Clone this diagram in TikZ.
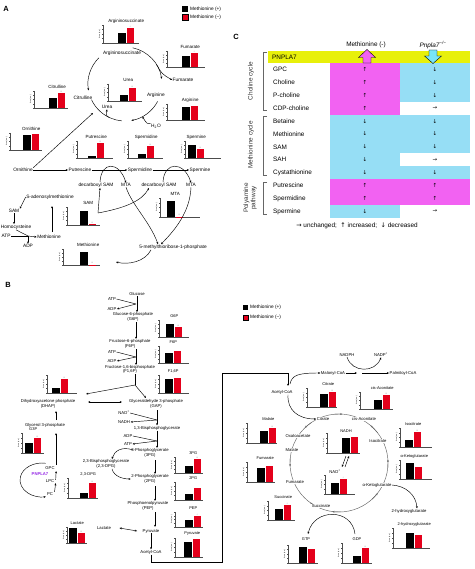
\documentclass[tikz,border=0pt]{standalone}
\usepackage{fontspec}
\setmainfont{Liberation Sans}
\newfontfamily\arrf{DejaVu Sans}
\usetikzlibrary{arrows.meta,calc}
\definecolor{barred}{RGB}{228,0,27}
\definecolor{mag}{RGB}{242,98,242}
\definecolor{cyn}{RGB}{150,222,245}
\definecolor{ylw}{RGB}{232,240,10}
\definecolor{pur}{RGB}{150,40,230}
\newcommand\fsA{\fontsize{4.8}{5.2}\selectfont}
\newcommand\fsB{\fontsize{4.2}{4.6}\selectfont}
\newcommand\fsC{\fontsize{6.4}{7.2}\selectfont}
\newcommand\fsL{\fontsize{4.8}{5.2}\selectfont}
\newcommand\fsY{\fontsize{1.8}{2}\selectfont}
\newcommand\cf{\fontsize{4.5}{4.9}\selectfont}
\newcommand\up{↑}
\newcommand\dn{↓}
\newcommand\rt{→}
\newcounter{chartno}
\tikzset{
 lA/.style={font=\fsA, inner sep=0.4pt},
 lB/.style={font=\fsB, inner sep=0.4pt, align=center},
 lBw/.style={lB, fill=white},
 ttl/.style={font=\cf, inner sep=0pt},
 yl/.style={font=\fsY, inner sep=0pt, rotate=90},
 stars/.style={font=\fsY, inner sep=0pt},
 ax/.style={line width=0.3pt, black!70},
 arr/.style={line width=0.45pt, -{Stealth[length=2.3pt,width=1.9pt]}},
 darr/.style={line width=0.45pt, {Stealth[length=2.3pt,width=1.9pt]}-{Stealth[length=2.3pt,width=1.9pt]}},
 ln/.style={line width=0.45pt},
 cyc/.style={line width=0.45pt, black!60},
 pl/.style={font=\bfseries\fontsize{7.5}{8}\selectfont, inner sep=0pt},
 cl/.style={font=\fsC, inner sep=0pt, anchor=west},
 cs/.style={font=\arrf\fontsize{5.5}{6}\selectfont, inner sep=0pt},
 brk/.style={line width=0.6pt, black!60},
 leg/.style={font=\fsL, inner sep=0pt, anchor=west},
}
% ax ay aw ah bx btop rtop title star
\newcommand\bc[9]{%
  \stepcounter{chartno}\edef\cn{\arabic{chartno}}%
  \draw[ax] (#1,{#2-#4}) -- (#1,#2) -- ({#1+#3},#2);
  \foreach \k in {0,0.25,0.5,0.75,1}{\draw[ax] (#1,{#2-\k*#4}) -- ({#1-0.9},{#2-\k*#4});}
  \fill[black] (#5,#2) rectangle ({#5+7.5},#6);
  \fill[barred] ({#5+8.5},#2) rectangle ({#5+16},#7);
  \node[ttl] (ct\cn) at ({#5+8.25},{#2-#4-4}) {#8};
  \node[stars] (cs\cn) at ({#5+12.25},{#7-1.6}) {#9};
  \node[yl] (cy\cn) at ({#1-3.3},{#2-#4/2}) {Area (a.u.)};
}
\begin{document}
\begin{tikzpicture}[x=1pt,y=-1pt]
\useasboundingbox (0,0) rectangle (474,569);
\fill[white] (0,0) rectangle (474,569);

%%%%%%%%%%%%%%%% PANEL A
\node[pl] (labA) at (6,9) {A};
\fill[black] (182,6) rectangle (188,12);
\draw[fill=barred, line width=0.3pt] (182,14) rectangle (188,20);
\node[leg] (lgA1) at (190,9) {Methionine (+)};
\node[leg] (lgA2) at (190,17) {Methionine (−)};

\bc{103}{43}{36}{18}{118}{33}{28}{Argininosuccinate}{*}
\bc{167}{67}{38}{16}{182}{56}{53}{Fumarate}{*}
\bc{34}{108}{34}{17}{49}{98}{93}{Citrulline}{**}
\bc{108}{101}{34}{17}{120}{95}{88}{Urea}{**}
\bc{167}{120}{38}{16}{182}{107}{106}{Arginine}{}
\bc{10}{150}{32}{17}{23}{135}{134}{Ornithine}{}
\bc{77}{158}{36}{17}{88}{156}{143}{Putrescine}{**}
\bc{128}{158}{35}{17}{138}{154}{146}{Spermidine}{**}
\bc{185}{158}{36}{17}{188}{145}{149}{Spermine}{**}
\bc{67}{225}{33}{18}{80}{211}{224}{SAM}{**}
\bc{160}{217}{40}{19}{167}{201}{216.5}{MTA}{**}
\bc{63}{265}{37}{16}{80}{252}{264.5}{Methionine}{**}

\node[lA] (asuc) at (122,53) {Argininosuccinate};
\node[lA] (fum) at (183,80) {Fumarate};
\node[lA] (cit) at (83,98) {Citrulline};
\node[lA] (arg) at (156,95) {Arginine};
\node[lA] (urea) at (107,107) {Urea};
\node[lA] (h2o) at (156,126) {H\textsubscript{2}O};
\node[lA] (orn) at (23,170) {Ornithine};
\node[lA] (put) at (80,170) {Putrescine};
\node[lA] (spd) at (140,170) {Spermidine};
\node[lA] (spm) at (200,170) {Spermine};
\node[lA] (ds1) at (96,185) {decarboxyl SAM};
\node[lA] (mta1) at (126,185) {MTA};
\node[lA] (ds2) at (159,185) {decarboxyl SAM};
\node[lA] (mta2) at (191,185) {MTA};
\node[lA] (sadm) at (50,197) {S-adenosylmethionine};
\node[lA] (sam) at (14,211) {SAM};
\node[lA] (hcy) at (16,227) {Homocysteine};
\node[lA] (atpA) at (6,236) {ATP};
\node[lA] (adpA) at (28,246) {ADP};
\node[lA] (metA) at (49,237) {Methionine};
\node[lA] (mtr) at (173,247) {5-methylthioribose-1-phosphate};

% urea cycle
\coordinate (uc) at (125,84);
\draw[ln,arr] ($(uc)+(-135:37)$) arc[start angle=-135, end angle=-190, radius=37];
\draw[ln,arr] ($(uc)+(-78:37)$) arc[start angle=-78, end angle=-8, radius=37];
\draw[ln,arr] ($(uc)+(28:37)$) arc[start angle=28, end angle=80, radius=37];
\draw[ln] ($(uc)+(-205:37)$) arc[start angle=-205, end angle=-245, radius=37];
\draw[ln,arr] ($(uc)+(95:37)$) arc[start angle=95, end angle=112, radius=37] .. controls (106,116) .. (urea.south);
\draw[arr] ($(uc)+(-32:37)$) .. controls (162,74) .. (fum.west);
\draw[arr] (h2o.north west) .. controls (147,124) .. ($(uc)+(62:37)$);
\coordinate (citin) at (93,113);
\draw[arr] (orn.north east) -- (citin);

% polyamines
\draw[arr] (orn.east) -- (put.west);
\draw[arr] (put.east) -- (spd.west);
\draw[arr] (spd.east) -- (spm.west);
\draw[arr] ($(ds1.north)+(4,0)$) .. controls (101,161) and (119,161) .. (mta1.north);
\draw[arr] ($(ds2.north)+(4,0)$) .. controls (164,161) and (184,161) .. (mta2.north);
\coordinate (samout) at (98,213);
\draw[arr] (samout) -- ($(ds1.south)+(4,0)$);
\draw[arr] (samout) .. controls (125,208) and (142,201) .. ($(ds2.south)+(-10,0)$);
\draw[arr] (mta1.south) .. controls (132,205) and (150,222) .. ($(mtr.north)+(-15,0)$);
\draw[arr] (mta2.south) .. controls (190,212) and (175,230) .. ($(mtr.north)+(-12,0)$);
\coordinate (metin) at (116,262);
\draw[arr] ($(mtr.south)+(-22,0)$) .. controls (145,262) and (128,265) .. (metin);

% methionine cycle
\draw[arr] (sadm.west) -- (sam.north east);
\draw[arr] (sam.south) -- (sam.south |- hcy.north);
\coordinate (jA) at (28,236);
\draw[arr] (hcy.south) -- (jA) -- (metA.west);
\draw[ln] (atpA.east) -- (jA);
\draw[arr] (jA) -- (adpA.north);
\coordinate (mup1) at (52,232);
\coordinate (mup2) at (52,206);
\draw[arr] (mup1) -- (mup2);

%%%%%%%%%%%%%%%% PANEL C
\node[pl] (labC) at (236,37) {C};
\fill[ylw] (268,51) rectangle (470,63.1);
\node[cl] (pnpla) at (272,57) {PNPLA7};
\node[font=\fsC, inner sep=0pt] (hm) at (366,45) {Methionine (-)};
\node[font=\fsC\itshape, inner sep=0pt] (hp) at (433,45) {Pnpla7\textsuperscript{−/−}};
\foreach \i/\nm/\ca/\cb/\sa/\sb in {
 1/GPC/mag/cyn/\up/\dn,
 2/Choline/mag/cyn/\up/\dn,
 3/P-choline/mag/cyn/\up/\dn,
 4/CDP-choline/mag/white/\up/\rt,
 5/Betaine/cyn/cyn/\dn/\dn,
 6/Methionine/cyn/cyn/\dn/\dn,
 7/SAM/cyn/cyn/\dn/\dn,
 8/SAH/cyn/white/\dn/\rt,
 9/Cystathionine/cyn/cyn/\dn/\dn,
 10/Putrescine/mag/mag/\up/\up,
 11/Spermidine/mag/mag/\up/\up,
 12/Spermine/cyn/white/\dn/\rt}{
 \pgfmathsetmacro\yt{63+(\i-1)*12.9}
 \pgfmathsetmacro\yb{63+\i*12.9+0.15}
 \pgfmathsetmacro\ym{63+(\i-0.5)*12.9}
 \fill[\ca] (330,\yt) rectangle (400.2,\yb);
 \fill[\cb] (400,\yt) rectangle (470,\yb);
 \node[cl] (rc\i) at (273,\ym) {\nm};
 \node[cs] (ra\i) at (365,\ym) {\sa};
 \node[cs] (rb\i) at (435,\ym) {\sb};
}
\draw[fill=mag, line width=0.4pt] (363,63) -- (363,57.5) -- (358.5,57.5) -- (367,49.5) -- (375.5,57.5) -- (371,57.5) -- (371,63) -- cycle;
\draw[fill=cyn!80!cyan, line width=0.4pt] (429,50) -- (437,50) -- (437,56) -- (441.5,56) -- (433,63.5) -- (424.5,56) -- (429,56) -- cycle;
\draw[brk] (267,52) -- (263,52) -- (263,110) -- (267,110);
\draw[brk] (267,116) -- (263,116) -- (263,175) -- (267,175);
\draw[brk] (267,182) -- (263,182) -- (263,214) -- (267,214);
\node[font=\fsC, rotate=90, inner sep=0pt, black!80] (bk1) at (251,81) {Choline cycle};
\node[font=\fsC, rotate=90, inner sep=0pt, black!80] (bk2) at (251,145) {Methionine cycle};
\node[font=\fsC, rotate=90, inner sep=0pt, black!80, align=center] (bk3) at (250,198) {Polyamine\\pathway};
\node[font=\fsC, inner sep=0pt] (legC) at (357,226) {{\arrf →} unchanged;\ \ {\arrf ↑} increased;\ \ {\arrf ↓} decreased};

%%%%%%%%%%%%%%%% PANEL B
\renewcommand\cf{\fontsize{4}{4.4}\selectfont}
\node[pl] (labB) at (8,285) {B};
\fill[black] (243,305) rectangle (248,310);
\draw[fill=barred, line width=0.3pt] (243,315) rectangle (248,320);
\node[leg] (lgB1) at (250,307.5) {Methionine (+)};
\node[leg] (lgB2) at (250,317.5) {Methionine (−)};

\bc{159}{337}{30}{17}{166}{324}{327}{G6P}{**}
\bc{159}{363}{30}{17}{165}{353}{351}{F6P}{}
\bc{159}{393}{30}{18}{165}{379}{378}{F1,6P}{}
\bc{47}{393}{30}{18}{52}{388}{379}{}{**}
\bc{22}{453}{22}{20}{25}{443}{438}{G3P}{**}
\bc{175}{473}{28}{16}{185}{466}{459}{3PG}{**}
\bc{175}{500}{28}{18}{185}{494}{488}{2PG}{}
\bc{175}{527}{28}{15}{185}{520}{516}{PEP}{*}
\bc{175}{557}{28}{19}{184}{542}{539}{Pyruvate}{}
\bc{67}{543}{20}{16}{69}{528}{533}{Lactate}{**}
\bc{68}{498}{30}{20}{80}{493}{483}{2,3-DPG}{**}
\bc{307}{407}{30}{19}{320}{394}{392}{Citrate}{**}
\bc{360}{409}{33}{17}{374}{400}{395}{cis-Aconitate}{**}
\bc{247}{443}{30}{20}{260}{431}{428}{Malate}{**}
\bc{327}{453}{33}{20}{342}{438}{437}{}{}
\bc{325}{494}{30}{19}{331}{483}{479}{}{*}
\bc{247}{482}{28}{20}{257}{468}{466}{Fumarate}{}
\bc{268}{520}{27}{19}{275}{509}{505}{Succinate}{*}
\bc{400}{447}{32}{19}{405}{440}{432}{Isocitrate}{**}
\bc{400}{479}{32}{19}{406}{463}{467}{α-Ketoglutarate}{}
\bc{288}{563}{30}{18}{299}{547}{549}{}{}
\bc{342}{563}{30}{20}{353}{556}{548}{}{**}
\bc{393}{548}{37}{20}{406}{533}{535}{2-hydroxyglutarate}{}

% glycolysis labels
\node[lB] (glc) at (137,294) {Glucose};
\node[lB] (atp1) at (112,299) {ATP};
\node[lB] (adp1) at (112,309) {ADP};
\node[lB] (g6p) at (133,317) {Glucose-6-phosphate\\(G6P)};
\node[lB] (f6p) at (130,344) {Fructose-6-phosphate\\(F6P)};
\node[lB] (atp2) at (112,352) {ATP};
\node[lB] (adp2) at (112,361) {ADP};
\node[lB] (f16p) at (130,369.5) {Fructose-1,6-bisphosphate\\(F1,6P)};
\node[lB] (dhap) at (48,404) {Dihydroxyacetone phosphate\\(DHAP)};
\node[lB] (gap) at (156,404) {Glyceraldehyde 3-phosphate\\(GAP)};
\node[lB] (nad1) at (124,413) {NAD\textsuperscript{+}};
\node[lB] (nadh1) at (124,422) {NADH};
\node[lB] (bpg13) at (157,428) {1,3-Bisphosphoglycerate};
\node[lB] (adp3) at (128,436) {ADP};
\node[lB] (atp3) at (128,444) {ATP};
\node[lB] (pg3) at (150,453) {3-Phosphoglycerate\\(3PG)};
\node[lB] (bpg23) at (106,464) {2,3-Bisphosphoglycerate\\(2,3-DPG)};
\node[lB] (pg2) at (150,479) {2-Phosphoglycerate\\(2PG)};
\node[lB] (pep) at (148,506) {Phosphoenolpyruvate\\(PEP)};
\node[lB] (pyr) at (151,531) {Pyruvate};
\node[lB] (accoa) at (151,552) {Acetyl-CoA};
\node[lB] (lac) at (104,528) {Lactate};
\node[lB] (g3pn) at (45,425) {Glycerol 3-phosphate};
\node[lB] (gpc) at (50,468) {GPC};
\node[lB, text=pur, font=\bfseries\fontsize{4.2}{4.6}\selectfont] (pnp) at (40,474.5) {PNPLA7};
\node[lB] (lpc) at (50,481) {LPC};
\node[lB] (pc) at (50,494) {PC};

% glycolysis arrows
\draw[arr] (glc.south) -- (glc.south |- g6p.north);
\coordinate (v1) at (136,304);
\draw[ln] (atp1.east) -- (v1);
\draw[arr] (v1) -- (adp1.east);
\draw[arr] (136,322) -- (136,339);
\coordinate (v2) at (136,357);
\draw[arr] (136,349) -- (136,365);
\draw[ln] (atp2.east) -- (v2);
\draw[arr] (v2) -- (adp2.east);
\coordinate (sp) at (135,385);
\draw[ln] (f16p.south -| sp) -- (sp);
\draw[arr] (sp) -- (86,394);
\draw[arr] (sp) -- (146,398);
\coordinate (dg1) at (88,402);
\coordinate (dg2) at (122,402);
\draw[darr] (dg1) -- (dg2);
\coordinate (v3) at (157,420);
\draw[arr] (157,410) -- (bpg13.north -| v3);
\draw[ln] (nad1.east) -- (v3);
\draw[arr] (v3) -- (nadh1.east);
\coordinate (v4) at (157,441);
\draw[arr] (bpg13.south -| v4) -- (157,448);
\draw[ln] (adp3.east) -- (v4);
\draw[arr] (v4) -- (atp3.east);
\draw[arr] (155,460) -- (155,474);
\draw[arr] (155,486) -- (155,501);
\draw[arr] (155,512) -- (155,527);
\draw[arr] (pyr.south) -- (pyr.south |- accoa.north);
\draw[arr] (133,450) .. controls (122,446) and (114,451) .. ($(bpg23.north)+(6,0)$);
\draw[arr] ($(bpg23.south)+(6,0)$) .. controls (114,477) and (124,479) .. (pg2.west);
\draw[darr] ($(lac.east)+(8,0)$) -- ($(pyr.west)+(-5,0)$);
% glycerol
\coordinate (g3a) at (56,420);
\coordinate (g3b) at (56,411);
\draw[arr] (g3a) -- (g3b);
\coordinate (gl1) at (56,465);
\coordinate (gl2) at (56,433);
\draw[arr] (gl1) -- (gl2);
\draw[arr] ($(lpc.north east)+(1,1)$) -- ($(gpc.south east)+(1,1)$);
\draw[arr] ($(pc.north east)+(1,0)$) -- ($(lpc.south east)+(1,0)$);
\coordinate (pcc) at (42,480);
\draw[ln,arr] ($(pcc)+(-80:22 and 17)$) arc[start angle=-80, end angle=-280, x radius=22, y radius=17];
% acetyl-CoA route
\coordinate (r1) at (222,562);
\coordinate (r2) at (288,373);
\coordinate (r3) at (288,386);
\draw[arr] (accoa.south) |- (r1) |- (r2) -- (r3);

% right: TCA etc
\node[lB] (nadph) at (347,355) {NADPH};
\node[lB] (nadpp) at (381,355) {NADP\textsuperscript{+}};
\node[lB] (malcoa) at (333,373) {Malonyl-CoA};
\node[lB] (palcoa) at (403,373) {Palmitoyl-CoA};
\node[lB] (accoa2) at (282,392) {Acetyl-CoA};
\coordinate (ma0) at (290,384);
\draw[arr] (ma0) .. controls (292,375) and (298,373) .. (malcoa.west);
\coordinate (fa1) at (357,373);
\coordinate (fa2) at (362,373);
\draw[arr] (malcoa.east) -- (fa1);
\draw[arr] (fa2) -- (palcoa.west);
\draw[arr] (nadph.south) .. controls (352,373) and (375,373) .. (nadpp.south);

\coordinate (tca) at (339,463);
\draw[cyc] (tca) circle[radius=49];
\foreach \a/\b in {-96/-86, 6/-4, -38/-50, 48/38, 88/98, 114/126, -174/-184, -124/-134}{
  \draw[cyc,arr] ($(tca)+(\a:49)$) arc[start angle=\a, end angle=\b, radius=49];
}
\node[lBw] (citr) at (323,419) {Citrate};
\node[lBw] (cisa) at (364,419) {cis-Aconitate};
\node[lBw] (isoc) at (378,441) {Isocitrate};
\node[lBw] (akg) at (377,485) {α-Ketoglutarate};
\node[lBw] (succ) at (321,506) {Succinate};
\node[lBw] (fumB) at (295,482) {Fumarate};
\node[lBw] (malB) at (292,450) {Malate};
\node[lBw] (oaa) at (298,436) {Oxaloacetate};
\draw[arr] ($(accoa2.south)+(6,0)$) .. controls (287,410) and (298,419) .. (citr.west);
\node[ttl] (nadhB) at (346,431) {NADH};
\node[lB] (nadB) at (335,472) {NAD\textsuperscript{+}};
\coordinate (nn1) at (346,456);
\coordinate (nn2) at (342,467);
\coordinate (nn3) at (345,467);
\coordinate (nn4) at (349,456);
\draw[arr] (nn1) -- (nn2);
\draw[arr] (nn3) -- (nn4);
\node[lB] (hg2) at (409,511) {2-hydroxyglutarate};
\draw[arr] (akg.east) .. controls (406,486) and (416,495) .. ($(hg2.north)+(8,0)$);
\node[ttl] (gtp) at (306,539) {GTP};
\node[ttl] (gdp) at (357,539) {GDP};
\coordinate (gg1) at (355,534);
\coordinate (gg2) at (308,534);
\draw[arr] (gg1) .. controls (352,508) and (314,508) .. (gg2);
\end{tikzpicture}
\end{document}
